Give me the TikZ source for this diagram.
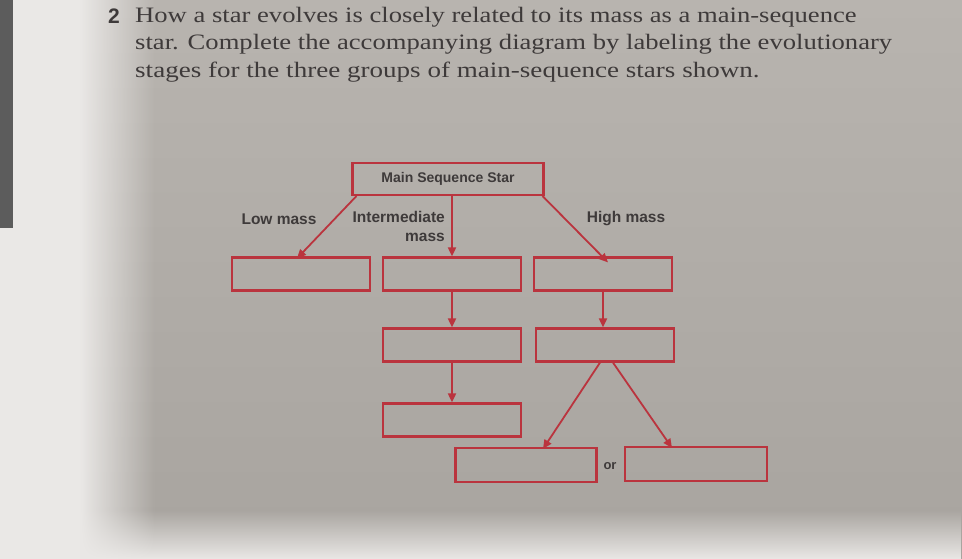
\documentclass[tikz,border=0pt]{standalone}
\usepackage{fontspec}
\setmainfont{Liberation Serif}
\setsansfont{Liberation Sans}
\usetikzlibrary{arrows.meta,positioning,fadings}
\definecolor{paper}{RGB}{168,164,159}
\definecolor{papertop}{RGB}{184,180,175}
\definecolor{paperlight}{RGB}{234,232,230}
\definecolor{edge}{RGB}{92,92,92}
\definecolor{boxred}{RGB}{186,52,62}
\definecolor{ink}{RGB}{62,58,58}

\begin{document}
\begin{tikzpicture}[x=1pt,y=-1pt,
  stagebox/.style={draw=boxred, line width=2.2pt, minimum width=138pt, minimum height=33pt, inner sep=0pt},
  flow/.style={-{Triangle[length=9pt,width=8pt]}, line width=1.8pt, boxred},
  lbl/.style={font=\sffamily\bfseries\fontsize{15.5}{19}\selectfont, text=ink, inner sep=0pt},
  para/.style={anchor=base west, inner sep=0pt, text=ink, font=\fontsize{22}{28}\selectfont}]
\useasboundingbox (0,0) rectangle (962,559);

% Page photo
\shade[top color=papertop, bottom color=paper] (0,0) rectangle (962,559);
\fill[paperlight, path fading=north] (0,510) rectangle (962,559);
\fill[paperlight] (0,0) rectangle (80,559);
\fill[paperlight, path fading=east] (80,0) rectangle (155,559);
\fill[edge] (0,0) rectangle (13,228);

% Question text
\node[para, font=\sffamily\bfseries\fontsize{21}{28}\selectfont] (num) at (108,24) {2};
\node[para] (line1) at (135,23) {\scalebox{1.21}[1]{How a star evolves is closely related to its mass as a main-sequence}};
\node[para] (line2) at (135,50) {\scalebox{1.21}[1]{star. Complete the accompanying diagram by labeling the evolutionary}};
\node[para] (line3) at (135,78) {\scalebox{1.23}[1]{stages for the three groups of main-sequence stars shown.}};

% Main sequence star
\node[stagebox, minimum width=191pt, minimum height=32pt, lbl, font=\sffamily\bfseries\fontsize{14}{16}\selectfont] (main) at (448,179) {Main Sequence Star};

% Blank stages
\node[stagebox] (low) at (301,274) {};
\node[stagebox] (mid1) at (452,274) {};
\node[stagebox] (high1) at (603,274) {};
\node[stagebox] (mid2) at (452,345) {};
\node[stagebox] (high2) at (605,345) {};
\node[stagebox] (mid3) at (452,420) {};
\node[stagebox, minimum width=141pt, minimum height=34pt] (end1) at (526,465) {};
\node[stagebox, minimum width=142pt, minimum height=34pt] (end2) at (696,464) {};

% Mass labels
\node[lbl] (lowlbl) at (279,219) {Low mass};
\node[lbl, anchor=north east, align=right] (midlbl) at (445,211) {Intermediate\\mass};
\node[lbl] (highlbl) at (626,219) {High mass};
\node[lbl, font=\sffamily\bfseries\fontsize{13}{15}\selectfont] (orlbl) at (610,466) {or};

% Arrows
\draw[flow] ([xshift=5pt]main.south west) -- ([xshift=-4pt,yshift=-2pt]low.north);
\draw[flow] (mid1.north |- main.south) -- (mid1.north);
\draw[flow] ([xshift=-2pt]main.south east) -- ([xshift=5pt,yshift=-6pt]high1.north);
\draw[flow] (mid1.south) -- (mid2.north);
\draw[flow] (high1.south) -- (high2.north -| high1.south);
\draw[flow] (mid2.south) -- (mid3.north);
\draw[flow] ([xshift=-5pt]high2.south) -- ([xshift=17pt,yshift=-2pt]end1.north);
\draw[flow] ([xshift=8pt]high2.south) -- ([xshift=-24pt,yshift=-2pt]end2.north);
\end{tikzpicture}
\end{document}
